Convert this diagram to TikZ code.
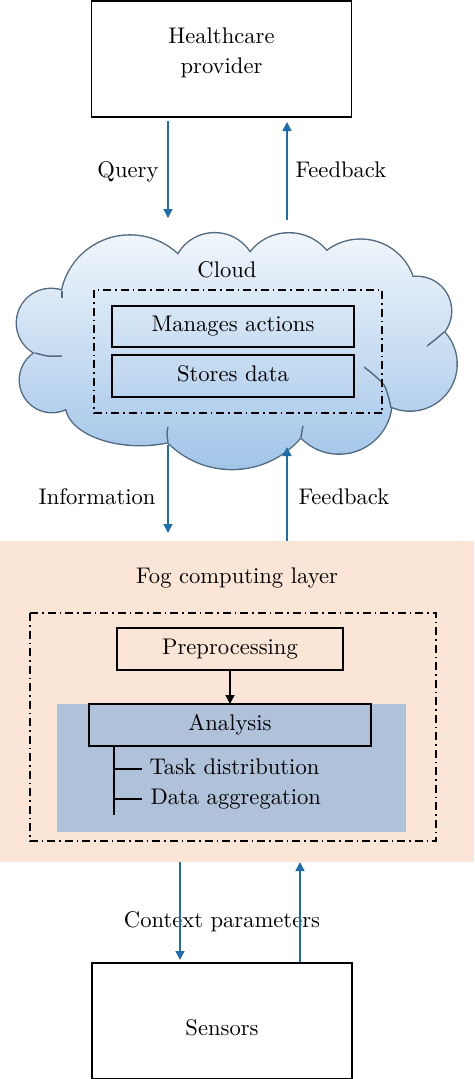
\documentclass[tikz,border=0pt]{standalone}
\usepackage{fontspec}
\setmainfont{lmroman10-regular.otf}
\usetikzlibrary{arrows.meta}
\definecolor{linkblue}{RGB}{30,110,172}
\definecolor{cloudedge}{RGB}{80,104,128}
\definecolor{cloudtop}{RGB}{242,247,252}
\definecolor{cloudbot}{RGB}{160,196,232}
\definecolor{fogpeach}{RGB}{251,229,214}
\definecolor{analysisblue}{RGB}{175,194,218}
\tikzset{
  box/.style={draw, line width=1.6pt, inner sep=0pt, outer sep=0pt},
  flow/.style={draw=linkblue, line width=1.5pt, -{Triangle[length=9pt,width=9pt]}},
  dashdotbox/.style={draw, line width=1.3pt, dash pattern=on 8pt off 4pt on 1.5pt off 4pt},
  lbl/.style={text height=15pt, text depth=5pt},
  cloudshape/.style={insert path={
    (130,305) circle[radius=69.4] (214.6,275) circle[radius=41.7]
    (289,282) circle[radius=48.6] (360.5,294.7) circle[radius=55]
    (417,311) circle[radius=34] (410,364) circle[radius=46.5]
    (339,401) circle[radius=52.5] (232,379) circle[radius=89.9]
    (140,405) ellipse[x radius=74, y radius=40]
    (52,380) circle[radius=32] (51,323) circle[radius=34]
    (110,360) circle[radius=40] (360,340) circle[radius=25]
    (240,360) circle[radius=75] (330,345) circle[radius=30]
    (80,345) circle[radius=20]}},
  cloudedgeline/.style={draw=cloudedge, line width=1.4pt},
}
\begin{document}
\begin{tikzpicture}[x=1pt, y=-1pt, font=\fontsize{22.6}{30}\selectfont]
        \useasboundingbox (0,0) rectangle (474,1079);

        % healthcare provider
        \node[box, minimum width=260pt, minimum height=116pt, align=center, text depth=16.4pt] (hc) at (221.5,59) {Healthcare\\provider};
        \coordinate (cq) at (168,218);
        \coordinate (cf) at (287,220);
        \draw[flow, shorten <=4pt] (hc.south -| cq) -- (cq);
        \draw[flow, shorten >=5pt] (cf) -- (hc.south -| cf);
        \node[lbl, anchor=east] (query) at (162,172) {Query};
        \node[lbl, anchor=west] (feedup) at (292,172) {Feedback};

        % cloud: outer half of the strokes stays, the shading covers the rest
        \draw[cloudedge, line width=2.8pt, cloudshape];
        \begin{scope}
          \clip[cloudshape];
          \shade[top color=cloudtop, bottom color=cloudbot] (0,228) rectangle (474,472);
        \end{scope}
        \draw[cloudedgeline] plot[smooth] coordinates {(35,353) (48,356) (62,356)};
        \draw[cloudedgeline] plot[smooth] coordinates {(168,442) (167,434) (168,427)};
        \draw[cloudedgeline] plot[smooth] coordinates {(301,437) (302,431) (303,426)};
        \draw[cloudedgeline] plot[smooth] coordinates {(391,408) (384,385) (364,367)};
        \draw[cloudedgeline] plot[smooth] coordinates {(444,332) (436,339) (427,346)};
        \draw[cloudedgeline] (62,291) -- (62,298);

        \node[lbl] (cloud) at (227,272) {Cloud};
        \draw[dashdotbox] (94,290) rectangle (382,413);
        \node[box, lbl, minimum width=242pt, minimum height=41pt] (manage) at (233,326.5) {Manages actions};
        \node[box, lbl, minimum width=242pt, minimum height=42pt] (store) at (233,376) {Stores data};

        % fog computing layer
        \node[fill=fogpeach, minimum width=474pt, minimum height=321pt, inner sep=0pt, outer sep=0pt] (fog) at (237,701.5) {};
        \coordinate (ci) at (168,445);
        \coordinate (cb) at (287,447);
        \draw[flow, shorten >=8pt] (ci) -- (ci |- fog.north);
        \draw[flow] (fog.north -| cb) -- (cb);
        \node[lbl, anchor=east] (info) at (159,499) {Information};
        \node[lbl, anchor=west] (feeddown) at (295,499) {Feedback};

        \node[lbl] (foglabel) at (237,578) {Fog computing layer};
        \draw[dashdotbox] (30,613) rectangle (436,841);
        \node[box, lbl, fill=fogpeach, minimum width=226pt, minimum height=42pt] (pre) at (230,649) {Preprocessing};
        \fill[analysisblue] (57,704) rectangle (406,832);
        \node[box, lbl, fill=analysisblue, minimum width=282pt, minimum height=42pt] (ana) at (230,725) {Analysis};
        \draw[line width=1.6pt, -{Triangle[length=9pt,width=9pt]}] (pre) -- (ana);

        \coordinate (tx) at (114,815);
        \draw[line width=1.6pt] (ana.south -| tx) -- (tx);
        \node[lbl, anchor=west] (task) at (146,769) {Task distribution};
        \node[lbl, anchor=west] (aggr) at (147,799) {Data aggregation};
        \draw[line width=1.6pt] (task.west -| tx) -- ([xshift=-4pt]task.west);
        \draw[line width=1.6pt] (aggr.west -| tx) -- ([xshift=-5pt]aggr.west);

        % sensors
        \node[box, minimum width=260pt, minimum height=116pt, text height=29pt] (sens) at (222,1021) {Sensors};
        \node[lbl] (context) at (222,922) {Context parameters};
        \coordinate (cd) at (180,0);
        \coordinate (cu) at (300,0);
        \draw[flow, shorten >=3pt] (fog.south -| cd) -- (sens.north -| cd);
        \draw[flow, shorten <=1pt] (sens.north -| cu) -- (fog.south -| cu);
\end{tikzpicture}
\end{document}
